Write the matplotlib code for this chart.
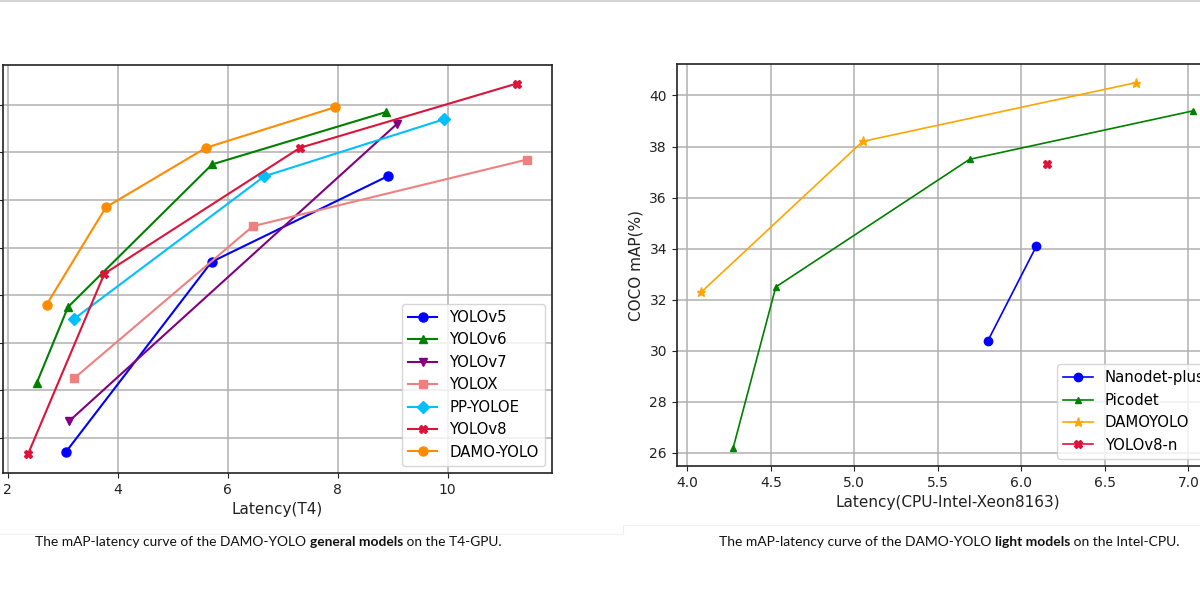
import matplotlib
matplotlib.use("Agg")
import matplotlib.pyplot as plt
from matplotlib.lines import Line2D
from matplotlib import font_manager

# ---------------- data: left chart (T4-GPU, general models) ----------------
yolov5_lat = [3.06, 5.71, 8.91]
yolov5_map = [37.4, 45.4, 49.0]
yolov6_lat = [2.53, 3.10, 5.72, 8.88]
yolov6_map = [40.3, 43.5, 49.5, 51.7]
yolov7_lat = [3.12, 9.08]
yolov7_map = [38.7, 51.2]
yolox_lat = [3.21, 6.46, 11.44]
yolox_map = [40.5, 46.9, 49.7]
ppyoloe_lat = [3.21, 6.67, 9.94]
ppyoloe_map = [43.0, 49.0, 51.4]
yolov8_lat = [2.37, 3.76, 7.32, 11.26]
yolov8_map = [37.3, 44.9, 50.2, 52.9]
damo_lat = [2.71, 3.79, 5.61, 7.95]
damo_map = [43.6, 47.7, 50.2, 51.9]

# ---------------- data: right chart (Intel CPU, light models) ----------------
nanodet_lat = [5.80, 6.09]
nanodet_map = [30.4, 34.1]
picodet_lat = [4.275, 4.53, 5.69, 7.03]
picodet_map = [26.2, 32.5, 37.5, 39.4]
damolight_lat = [4.084, 5.05, 6.685]
damolight_map = [32.3, 38.2, 40.5]
yolov8n_lat = [6.156]
yolov8n_map = [37.3]

left_xlabel = "Latency(T4)"
right_xlabel = "Latency(CPU-Intel-Xeon8163)"
right_ylabel = "COCO mAP(%)"
left_caption = ["The mAP-latency curve of the DAMO-YOLO ", "general models", " on the T4-GPU."]
right_caption = ["The mAP-latency curve of the DAMO-YOLO ", "light models", " on the Intel-CPU."]

W, H = 1200, 600
fig = plt.figure(figsize=(12, 6), dpi=100)


def fx(px):
    return px / W


def fy(py):
    return 1 - py / H


# ---------------- left axes ----------------
axL = fig.add_axes([fx(2.5), fy(473), fx(552 - 2.5), (473 - 65) / H])
left_series = [
    (yolov5_lat, yolov5_map, "YOLOv5", "blue", "o", 6.5),
    (yolov6_lat, yolov6_map, "YOLOv6", "green", "^", 6.0),
    (yolov7_lat, yolov7_map, "YOLOv7", "purple", "v", 6.0),
    (yolox_lat, yolox_map, "YOLOX", "lightcoral", "s", 5.5),
    (ppyoloe_lat, ppyoloe_map, "PP-YOLOE", "deepskyblue", "D", 6.0),
    (yolov8_lat, yolov8_map, "YOLOv8", "crimson", "X", 6.0),
    (damo_lat, damo_map, "DAMO-YOLO", "darkorange", "o", 6.5),
]
for xs, ys, lab, col, mk, ms in left_series:
    axL.plot(xs, ys, color=col, marker=mk, markersize=ms, linewidth=1.5, label=lab)
axL.set_xlim(1.909, 11.9)
axL.set_ylim(36.52, 53.68)
axL.set_xticks([2, 4, 6, 8, 10])
axL.set_yticks([38, 40, 42, 44, 46, 48, 50, 52])
axL.grid(True, color="#b0b0b0", linewidth=1.1)
axL.tick_params(labelsize=10, colors="#222222")
axL.tick_params(axis="y", labelleft=False)  # labels lie outside the cropped picture
axL.set_xlabel(left_xlabel, fontsize=11, color="#222222")
for s in axL.spines.values():
    s.set_linewidth(1.2)
    s.set_color("#222222")
legL = axL.legend(loc="lower right", fontsize=10.7, framealpha=0.8)

# ---------------- right axes ----------------
axR = fig.add_axes([fx(676.7), fy(466), fx(1218 - 676.7), (466 - 64.3) / H])
right_series = [
    (nanodet_lat, nanodet_map, "Nanodet-plus", "blue", "o", 6.0),
    (picodet_lat, picodet_map, "Picodet", "green", "^", 5.0),
    (damolight_lat, damolight_map, "DAMOYOLO", "orange", "*", 6.5),
    (yolov8n_lat, yolov8n_map, "YOLOv8-n", "crimson", "X", 5.5),
]
for xs, ys, lab, col, mk, ms in right_series:
    axR.plot(xs, ys, color=col, marker=mk, markersize=ms, linewidth=1.2, label=lab)
axR.set_xlim(3.937, 7.177)
axR.set_ylim(25.49, 41.22)
axR.set_xticks([4.0, 4.5, 5.0, 5.5, 6.0, 6.5, 7.0])
axR.set_yticks([26, 28, 30, 32, 34, 36, 38, 40])
axR.grid(True, color="#b0b0b0", linewidth=1.1)
axR.tick_params(labelsize=10, colors="#222222")
axR.set_xlabel(right_xlabel, fontsize=11, color="#222222")
axR.set_ylabel(right_ylabel, fontsize=11, color="#222222")
for s in axR.spines.values():
    s.set_linewidth(1.2)
    s.set_color("#222222")
legR = axR.legend(loc="lower right", fontsize=10.7, framealpha=0.8)

# ---------------- decorations ----------------
fig.add_artist(Line2D([0, 1], [fy(0.8), fy(0.8)], transform=fig.transFigure,
                      color="#d4d4d4", linewidth=1.5))
fig.add_artist(Line2D([0, fx(623)], [fy(534), fy(534)], transform=fig.transFigure,
                      color="#f0f0f0", linewidth=0.8))
fig.add_artist(Line2D([fx(623), fx(623)], [fy(534), fy(525)], transform=fig.transFigure,
                      color="#f0f0f0", linewidth=0.8))
fig.add_artist(Line2D([fx(623), 1], [fy(525), fy(525)], transform=fig.transFigure,
                      color="#f0f0f0", linewidth=0.8))

# caption font: a narrow humanist-ish sans if available
_names = {f.name for f in font_manager.fontManager.ttflist}
if "Liberation Sans Narrow" in _names:
    CAP_FAM = ["Liberation Sans Narrow", "DejaVu Sans"]
else:
    CAP_FAM = ["Lato", "DejaVu Sans"]


# ---------------- captions (mixed regular / bold) ----------------
def caption(parts, x0px, x1px, ybase_px):
    fs = 11.0
    t1 = fig.text(fx(x0px), fy(ybase_px), parts[0], fontsize=fs, family=CAP_FAM,
                  va="baseline", ha="left", color="#111111")
    t2 = fig.text(0, 0, parts[1], fontsize=fs, family=CAP_FAM, fontweight="bold",
                  va="baseline", ha="left", color="#111111")
    t3 = fig.text(0, 0, parts[2], fontsize=fs, family=CAP_FAM,
                  va="baseline", ha="left", color="#111111")
    texts = [t1, t2, t3]
    r = fig.canvas.get_renderer()
    for _ in range(2):
        widths = [t.get_window_extent(r).width for t in texts]
        total = sum(widths)
        fs = fs * (x1px - x0px) / total
        for t in texts:
            t.set_fontsize(fs)
    widths = [t.get_window_extent(r).width for t in texts]
    x = x0px
    for t, w in zip(texts, widths):
        t.set_position((fx(x), fy(ybase_px)))
        x += w


caption(left_caption, 35, 503, 545.5)
caption(right_caption, 719, 1181, 545.5)

fig.savefig("out.png", dpi=100)
